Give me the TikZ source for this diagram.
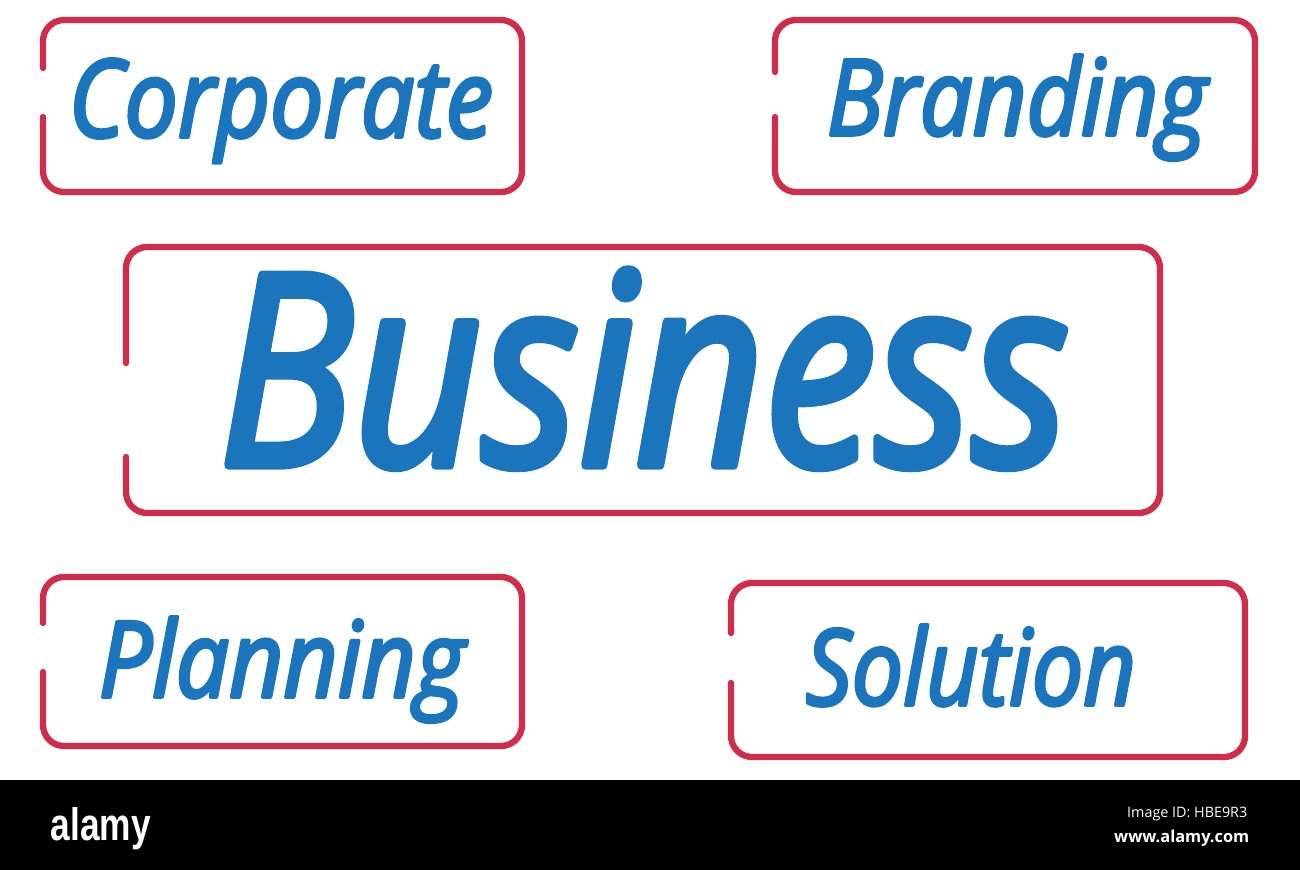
\documentclass[tikz,border=0pt]{standalone}
\usepackage{fontspec}
\setmainfont{Open Sans}
\newfontfamily\markfont{Liberation Sans}
\usepackage{graphicx}
\definecolor{brushred}{HTML}{D02D4B}
\definecolor{inkblue}{HTML}{1B75BC}
\tikzset{
	brush/.style={draw=brushred, line width=1.8pt, rounded corners=6pt, line cap=round},
	word/.style={text=inkblue, font=\itshape, inner sep=0pt, anchor=base west},
	stamp/.style={text=white, inner sep=0pt}
}
% left, top, right, bottom, gap top, gap bottom
\newcommand{\brushbox}[6]{\draw[brush] (#1,#6)--(#1,#4)--(#3,#4)--(#3,#2)--(#1,#2)--(#1,#5);}
% slightly heavier pen for the words
\newcommand{\inkword}[1]{\special{pdf:literal direct 2 Tr 0.35 w 1 j}#1\special{pdf:literal direct 0 Tr}}
\begin{document}
\begin{tikzpicture}[x=0.01cm, y=-0.01cm]
	\useasboundingbox (0,0) rectangle (1300,870);
	\brushbox{43}{20}{522}{192}{68}{117}
	\brushbox{775}{20}{1255}{192}{72}{117}
	\brushbox{126}{247}{1160}{513}{363}{457}
	\brushbox{43}{577}{522}{746}{623}{672}
	\brushbox{731}{583}{1245}{757}{633}{683}
	\node[word] (corporate) at (68,137) {\resizebox{4.24cm}{0.78cm}{\inkword{Corporate}}};
	\node[word] (branding) at (826,135) {\resizebox{3.8cm}{0.8cm}{\inkword{Branding}}};
	\node[word] (business) at (218,465) {\resizebox{8.5cm}{1.95cm}{\inkword{Business}}};
	\node[word] (planning) at (98,697) {\resizebox{3.66cm}{0.8cm}{\inkword{Planning}}};
	\node[word] (solution) at (805,705) {\resizebox{3.3cm}{0.8cm}{\inkword{Solution}}};
	\fill[black] (0,780) rectangle (1300,870);
	\node[stamp, font=\markfont\bfseries, anchor=base west] (logo) at (50,840) {\resizebox{1.0cm}{0.33cm}{alamy}};
	\node[stamp, anchor=base east] (imageid) at (1248,817) {\resizebox{1.2cm}{!}{Image ID: HBE9R3}};
	\node[stamp, font=\bfseries, anchor=base east] (site) at (1250,842) {\resizebox{1.35cm}{!}{www.alamy.com}};
\end{tikzpicture}
\end{document}
